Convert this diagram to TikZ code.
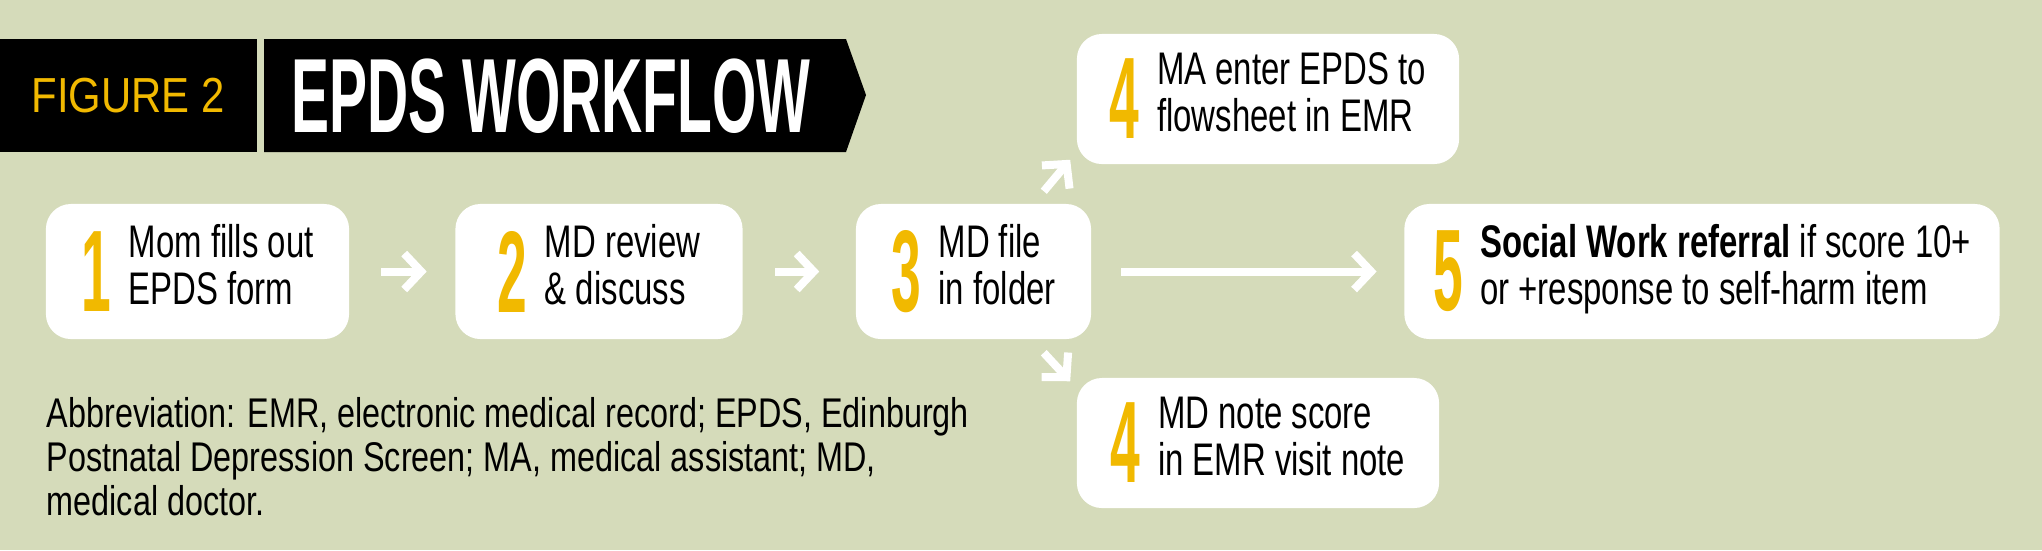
\documentclass[tikz,border=0pt]{standalone}
\usepackage{fontspec}
\setmainfont{Liberation Sans}[FakeStretch=0.72]
\newfontfamily\titlefont{Liberation Sans}[FakeStretch=0.54]
\newfontfamily\numfont{Liberation Sans}[FakeStretch=0.46]
\newfontfamily\figfont{Liberation Sans}[FakeStretch=0.85]
\newfontfamily\notefont{Liberation Sans}[FakeStretch=0.78]
\usetikzlibrary{arrows.meta,calc}
\definecolor{sage}{RGB}{213,219,186}
\definecolor{epdsyellow}{RGB}{241,185,0}
\newcommand{\stepnum}[1]{$\vcenter{\hbox{\numfont\bfseries\fontsize{33}{33}\selectfont\color{epdsyellow}#1}}$\hspace{5pt}}
\newcommand{\steptext}[2]{$\vcenter{\hbox{\begin{tabular}{@{}l@{}}#1\\#2\end{tabular}}}$}
\tikzset{
    stepbox/.style={fill=white, rounded corners=0.25cm, minimum height=1.35cm, inner sep=0pt, font=\fontsize{13}{13.1}\selectfont},
    flowarrow/.style={white, line width=0.08cm, -{Straight Barb[length=0.17cm, width=0.36cm]}}
}
\begin{document}
\begin{tikzpicture}[x=0.01cm, y=-0.01cm]
    \fill[sage] (0,0) rectangle (2042,550);
    \useasboundingbox (0,0) rectangle (2042,550);
    \fill[black] (0,39) rectangle (257,152);
    \fill[black] (264,39) -- (846,39) -- (866,95) -- (846,152) -- (264,152) -- cycle;
    \node[text=epdsyellow, font=\figfont\fontsize{14}{14}\selectfont] (fig) at (128,96) {FIGURE 2};
    \node[text=white, font=\titlefont\bfseries\fontsize{30}{30}\selectfont] (title) at (551,96) {EPDS WORKFLOW};

    \node[stepbox, minimum width=3.03cm] (b1) at (197.5,271.5) {\stepnum{1}\steptext{Mom fills out}{EPDS form}};
    \node[stepbox, minimum width=2.87cm] (b2) at (599,271.5) {\stepnum{2}\steptext{MD review}{\& discuss}};
    \node[stepbox, minimum width=2.35cm] (b3) at (973.5,271.5) {\stepnum{3}\steptext{MD file}{in folder}};
    \node[stepbox, minimum width=3.82cm, minimum height=1.30cm] (b4a) at (1268,99) {\stepnum{4}\steptext{MA enter EPDS to}{flowsheet in EMR}};
    \node[stepbox, minimum width=3.62cm, minimum height=1.30cm] (b4b) at (1258,443) {\stepnum{4}\steptext{MD note score}{in EMR visit note}};
    \node[stepbox, minimum width=5.95cm] (b5) at (1702,271.5) {\stepnum{5}\steptext{\textbf{Social Work referral} if score 10+}{or +response to self-harm item}};

    \draw[flowarrow, shorten <=0.31cm, shorten >=0.28cm] (b1) -- (b2);
    \draw[flowarrow, shorten <=0.32cm, shorten >=0.36cm] (b2) -- (b3);
    \draw[flowarrow, shorten <=0.29cm, shorten >=0.27cm] (b3) -- (b5);
    \draw[flowarrow] ($(b3.north east)+(-48,-12)$) -- ($(b4a.south west)+(-6,-5)$);
    \draw[flowarrow] ($(b3.south east)+(-48,13)$) -- ($(b4b.north west)+(-6,4)$);

    \node[anchor=north west, inner sep=0pt, align=left, font=\notefont\fontsize{11.8}{12.5}\selectfont] (abbr) at (46,397) {Abbreviation: EMR, electronic medical record; EPDS, Edinburgh\\Postnatal Depression Screen; MA, medical assistant; MD,\\medical doctor.};
\end{tikzpicture}
\end{document}
